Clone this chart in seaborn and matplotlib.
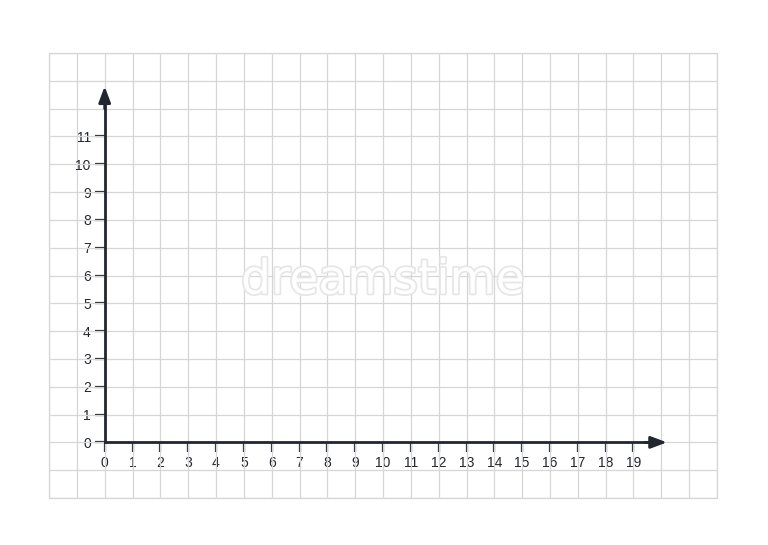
import numpy as np
import seaborn as sns
import matplotlib.pyplot as plt
import matplotlib.patheffects as pe
from matplotlib.ticker import MultipleLocator


# grid range and axis labels
x_ticks = list(range(0, 20))
y_ticks = list(range(0, 12))
x_range = (-2, 22)
y_range = (-2, 14)
x_arrow_end = 20.2
y_arrow_end = 12.8

axis_color = "#22262e"
grid_color = "#d6d6d6"

sns.set_theme(style="white")
plt.rcParams['font.family'] = ['Liberation Sans', 'DejaVu Sans']

fig = plt.figure(figsize=(7.68, 5.45), dpi=100)
# axes box = the grid area
ax = fig.add_axes([49 / 768, 1 - 498 / 545, (717 - 49) / 768, (498 - 53) / 545])
ax.set_xlim(*x_range)
ax.set_ylim(*y_range)

# square grid on every unit (keep minor lines under the major ticks too)
ax.xaxis.set_minor_locator(MultipleLocator(1))
ax.yaxis.set_minor_locator(MultipleLocator(1))
ax.xaxis.remove_overlapping_locs = False
ax.yaxis.remove_overlapping_locs = False
ax.grid(which="minor", color=grid_color, linewidth=0.9)
ax.grid(which="major", visible=False)
ax.tick_params(which="minor", length=0)

for s in ["top", "right"]:
    ax.spines[s].set_visible(False)

# axes through the origin
ax.spines["left"].set_position(("data", 0))
ax.spines["bottom"].set_position(("data", 0))
ax.spines["left"].set_bounds(0, y_arrow_end - 0.3)
ax.spines["bottom"].set_bounds(0, x_arrow_end - 0.3)
for s in ["left", "bottom"]:
    ax.spines[s].set_color(axis_color)
    ax.spines[s].set_linewidth(2)
    ax.spines[s].set_zorder(3)

ax.set_xticks(x_ticks)
ax.set_yticks(y_ticks)
ax.set_xticklabels([str(v) for v in x_ticks])
ax.set_yticklabels([str(v) for v in y_ticks])
ax.tick_params(which="major", bottom=True, left=True, direction="out",
               length=7, width=1.6, color=axis_color, labelcolor=axis_color,
               labelsize=10, pad=3)

# border lines of grid
ax.plot([x_range[0], x_range[1], x_range[1], x_range[0], x_range[0]],
        [y_range[0], y_range[0], y_range[1], y_range[1], y_range[0]],
        color=grid_color, linewidth=0.9, clip_on=False, zorder=1)

# arrow heads
ax.annotate("", xy=(x_arrow_end, 0), xytext=(x_arrow_end - 0.8, 0),
            arrowprops=dict(arrowstyle="-|>,head_length=0.8,head_width=0.3",
                            color=axis_color, lw=2, shrinkA=0, shrinkB=0), zorder=4)
ax.annotate("", xy=(0, y_arrow_end), xytext=(0, y_arrow_end - 0.8),
            arrowprops=dict(arrowstyle="-|>,head_length=0.8,head_width=0.3",
                            color=axis_color, lw=2, shrinkA=0, shrinkB=0), zorder=4)

# faint watermark
ax.text(10, 5.8, "dreamstime", ha="center", va="center", fontsize=34,
        family=["DejaVu Sans"], color="white", zorder=2,
        path_effects=[pe.withStroke(linewidth=2.5, foreground="#e6e6e6")])

plt.savefig("out.png", dpi=100)
